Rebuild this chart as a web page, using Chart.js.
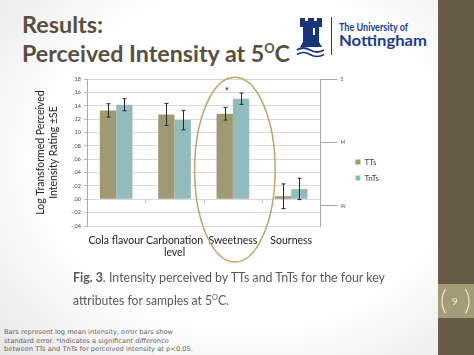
<!DOCTYPE html>
<html><head><meta charset="utf-8">
<script src="https://cdn.jsdelivr.net/npm/chart.js@4.4.1/dist/chart.umd.min.js"></script>
<style>
html,body{margin:0;padding:0;}
body{width:474px;height:355px;overflow:hidden;position:relative;
 background:radial-gradient(ellipse 78% 85% at 52% 45%, #ffffff 55%, #e2e2e2 100%);
 font-family:Lato, "Open Sans", sans-serif;}
.t{position:absolute;white-space:nowrap;transform-origin:0 0;line-height:1;display:inline-block;}
#chartWrap{position:absolute;left:0;top:60px;width:438px;height:210px;}
</style></head><body>

<div class="t" data-w="81" style="left:22px;top:13px;font-size:23px;font-weight:700;color:#57503f;">Results:</div>
<div class="t" data-w="268" style="left:22px;top:42px;font-size:23px;font-weight:700;color:#57503f;">Perceived Intensity at 5<span style="font-size:0.55em;vertical-align:0.7em;">O</span>C</div>

<svg style="position:absolute;left:296px;top:16px" width="30" height="42" viewBox="0 0 30 42">
 <path d="M4,2 h5 v3 h3 v-3 h6 v3 h3 v-3 h5 v9 h-3 v15 l3,5 h-22 l3,-5 v-15 h-3 z" fill="#17357a"/>
 <rect x="17" y="12" width="2" height="7" fill="#ffffff"/>
 <path d="M1,34 q6,-4 13,0 t14,0" stroke="#17357a" stroke-width="2" fill="none"/>
 <path d="M1,38.5 q6,-4 13,0 t14,0" stroke="#17357a" stroke-width="1.6" fill="none"/>
</svg>
<div style="position:absolute;left:331px;top:17px;width:1px;height:38px;background:#1e3d8f;"></div>
<div class="t" data-w="69" style="left:339px;top:22px;font-size:10.5px;font-weight:700;color:#1e3d8f;">The University of</div>
<div class="t" data-w="88" style="left:339px;top:32px;font-size:16px;font-weight:700;color:#1e3d8f;">Nottingham</div>

<div id="chartWrap"><canvas id="c" width="438" height="210"></canvas></div>

<div class="t" data-w="312" style="left:73px;top:271px;font-size:13.5px;color:#595959;"><b>Fig. 3</b>. Intensity perceived by TTs and TnTs for the four key</div>
<div class="t" data-w="156" style="left:73px;top:293px;font-size:13.5px;color:#595959;">attributes for samples at 5<span style="font-size:0.6em;vertical-align:0.6em;">O</span>C.</div>

<div class="t" data-w="169" style="left:4px;top:329px;font-size:6.5px;font-family:'DejaVu Sans';color:#666;">Bars represent log mean intensity, error bars show</div>
<div class="t" data-w="165" style="left:4px;top:337.7px;font-size:6.5px;font-family:'DejaVu Sans';color:#666;">standard error. *Indicates a significant difference</div>
<div class="t" data-w="189" style="left:4px;top:346.4px;font-size:6.5px;font-family:'DejaVu Sans';color:#666;">between TTs and TnTs for perceived intensity at p&lt;0.05.</div>

<div style="position:absolute;left:438px;top:0;width:36px;height:355px;background:#675d46;"></div>
<div style="position:absolute;left:438px;top:284px;width:36px;height:34px;background:#a39c77;"></div>
<div class="t" style="left:440px;top:286px;font-size:27px;font-weight:300;color:#ece8d0;">(</div>
<div class="t" style="left:464px;top:286px;font-size:27px;font-weight:300;color:#ece8d0;">)</div>
<div class="t" style="left:452px;top:296px;font-size:10px;color:#f4f0dc;">9</div>

<script>
// ---- data ----
const categories = ['Cola flavour', ['Carbonation', 'level'], 'Sweetness', 'Sourness'];
const seriesNames = ['TTs', 'TnTs'];
const ttsMeans = [0.133, 0.127, 0.128, 0.0045];
const ttsSE = [0.010, 0.0165, 0.0095, 0.0185];
const tntsMeans = [0.1415, 0.1185, 0.1505, 0.0155];
const tntsSE = [0.009, 0.0145, 0.0085, 0.016];
const significant = [false, false, true, false];
const starValue = 0.165;
const highlightIndex = 2;
const highlightRange = [-0.094, 0.1825];
const yMin = -0.04, yMax = 0.18, yStep = 0.02;
const y2TickValues = [1, 2, 3];
const y2TickLabels = ['W', 'M', 'S'];
const y2Min = 0.685, y2Max = 3;
const yTitle = ['Log Transformed Perceived', 'Intensity Rating \u00B1SE'];

function fmtTick(v) {
  const r = Math.round(v * 100);
  if (r === 0) return ',00';
  const s = ',' + String(Math.abs(r)).padStart(2, '0');
  return r < 0 ? '-' + s : s;
}

const extras = {
  id: 'extras',
  afterDatasetsDraw(chart) {
    const ctx = chart.ctx, ys = chart.scales.y, xs = chart.scales.x;
    ctx.save();
    const y0 = ys.getPixelForValue(0);
    ctx.strokeStyle = '#bbbbbb'; ctx.lineWidth = 1;
    for (let i = 1; i < categories.length; i++) {
      const xm = Math.round((xs.getPixelForValue(i - 1) + xs.getPixelForValue(i)) / 2) + 0.5;
      ctx.beginPath(); ctx.moveTo(xm, y0); ctx.lineTo(xm, y0 + 4); ctx.stroke();
    }
    ctx.strokeStyle = '#2a2a2a'; ctx.lineWidth = 1;
    [ttsSE, tntsSE].forEach((se, di) => {
      const meta = chart.getDatasetMeta(di);
      const vals = chart.data.datasets[di].data;
      meta.data.forEach((el, j) => {
        const x = Math.round(el.x) + 0.5;
        const t = ys.getPixelForValue(vals[j] + se[j]);
        const b = ys.getPixelForValue(vals[j] - se[j]);
        ctx.beginPath();
        ctx.moveTo(x, t); ctx.lineTo(x, b);
        ctx.moveTo(x - 2, t); ctx.lineTo(x + 2, t);
        ctx.moveTo(x - 2, b); ctx.lineTo(x + 2, b);
        ctx.stroke();
      });
    });
    ctx.fillStyle = '#222';
    ctx.font = 'bold 9px Lato';
    ctx.textAlign = 'center'; ctx.textBaseline = 'middle';
    significant.forEach((s, i) => {
      if (s) ctx.fillText('*', xs.getPixelForValue(i) - 6, ys.getPixelForValue(starValue) + 2);
    });
    ctx.restore();
  },
  afterDraw(chart) {
    const ctx = chart.ctx, ys = chart.scales.y, xs = chart.scales.x;
    const cx = xs.getPixelForValue(highlightIndex) + 2;
    const rx = 0.69 * (xs.getPixelForValue(1) - xs.getPixelForValue(0));
    const top = ys.getPixelForValue(highlightRange[1]);
    const bot = ys.getPixelForValue(highlightRange[0]);
    ctx.save();
    ctx.strokeStyle = '#c4a264'; ctx.lineWidth = 1.5;
    ctx.beginPath();
    ctx.ellipse(cx, (top + bot) / 2, rx, (bot - top) / 2, 0, 0, Math.PI * 2);
    ctx.stroke();
    ctx.restore();
  }
};

function fitTexts() {
  document.querySelectorAll('[data-w]').forEach(el => {
    el.style.transform = 'none';
    const w = el.getBoundingClientRect().width;
    const target = parseFloat(el.dataset.w);
    if (w > 0) el.style.transform = 'scaleX(' + (target / w) + ')';
  });
}

function build() {
  fitTexts();
  new Chart(document.getElementById('c'), {
    type: 'bar',
    data: {
      labels: categories,
      datasets: [
        { label: seriesNames[0], data: ttsMeans, backgroundColor: '#a09a72', borderWidth: 0, barPercentage: 1, categoryPercentage: 0.56 },
        { label: seriesNames[1], data: tntsMeans, backgroundColor: '#92bcbc', borderWidth: 0, barPercentage: 1, categoryPercentage: 0.56 }
      ]
    },
    options: {
      responsive: false,
      animation: false,
      devicePixelRatio: 1,
      layout: { padding: { top: 19, bottom: 9, left: 0, right: 49 } },
      plugins: {
        legend: {
          position: 'right', align: 'center',
          labels: { boxWidth: 5, boxHeight: 5, padding: 8, color: '#444', font: { family: 'Lato', size: 8 } }
        },
        tooltip: { enabled: false }
      },
      scales: {
        x: {
          grid: { display: false, drawTicks: false },
          border: { display: false },
          ticks: { color: '#222', font: { family: 'Lato', size: 10.5 }, padding: 8, maxRotation: 0, autoSkip: false },
          afterFit(s) { s.height = 35; }
        },
        y: {
          min: yMin, max: yMax,
          ticks: { stepSize: yStep, color: '#444', font: { family: 'Lato', size: 5.5 }, padding: 3, callback: v => fmtTick(v) },
          grid: { color: '#d9d9d9', tickLength: 3, tickColor: '#bbbbbb' },
          border: { color: '#a8a8a8' },
          title: { display: true, text: yTitle, color: '#222', font: { family: 'Lato', size: 10.5, lineHeight: 1.25 }, padding: { top: 34, bottom: 0 } },
          afterFit(s) { s.width = 87; }
        },
        y2: {
          position: 'right', min: y2Min, max: y2Max,
          afterBuildTicks(s) { s.ticks = y2TickValues.map(v => ({ value: v })); },
          ticks: { color: '#555', font: { family: 'Lato', size: 5 }, padding: 3,
                   callback: v => y2TickLabels[y2TickValues.indexOf(v)] },
          grid: { drawOnChartArea: false, tickLength: 17, color: '#a8a8a8' },
          border: { color: '#a8a8a8' },
          afterFit(s) { s.width = 27; }
        }
      }
    },
    plugins: [extras]
  });
}
(document.fonts && document.fonts.ready ? document.fonts.ready : Promise.resolve()).then(build);
</script>
</body></html>
